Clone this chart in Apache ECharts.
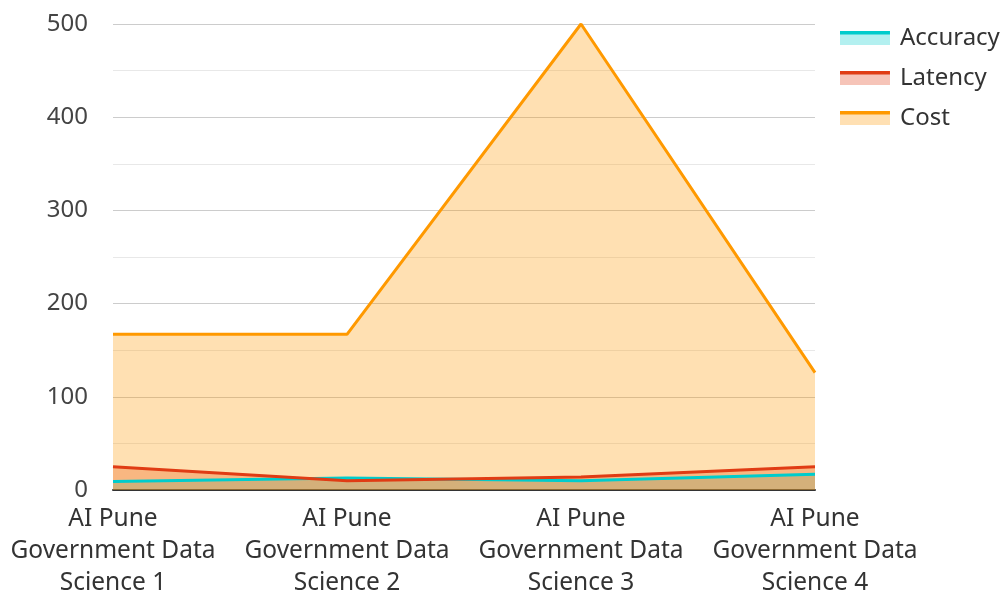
<!DOCTYPE html>
<html>
<head>
<meta charset="utf-8">
<script src="https://cdn.jsdelivr.net/npm/echarts@6/dist/echarts.min.js"></script>
<style>
  html, body { margin: 0; padding: 0; background: #fff; }
  #chart { width: 1005px; height: 594px; }
</style>
</head>
<body>
<div id="chart"></div>
<script>
var categories = [
    'AI Pune\nGovernment Data\nScience 1',
    'AI Pune\nGovernment Data\nScience 2',
    'AI Pune\nGovernment Data\nScience 3',
    'AI Pune\nGovernment Data\nScience 4'
]
var accuracy_data = [9, 13, 10, 17]
var latency_data = [25, 10, 14, 25]
var cost_data = [167, 167, 500, 126]
var y_ticks = [0, 100, 200, 300, 400, 500]

var names = ['Accuracy', 'Latency', 'Cost']
var colors = ['#00cccc', '#e03c14', '#ff9900']
var light_colors = ['#b3f0f0', '#f6c4b8', '#ffe0b3']
var values = [accuracy_data, latency_data, cost_data]

var font = 'Noto Sans'
// line strip at top, invisible dot at bottom keeps the box size
var line_icon = 'path://M0,0H50V3.5H0Z M0,14H0.01V14.01H0Z'

function make_series()
{
    var series = []
    for (var i = 0; i < names.length; i++) {
        series.push({
            name: names[i],
            type: 'line',
            data: values[i],
            symbol: 'none',
            lineStyle: { width: 3, color: colors[i] },
            itemStyle: { color: colors[i] },
            areaStyle: { color: colors[i], opacity: 0.3 }
        })
    }
    return series
}

function legend_items(use_light)
{
    var items = []
    for (var i = 0; i < names.length; i++) {
        items.push({
            name: names[i],
            itemStyle: { color: use_light ? light_colors[i] : colors[i], opacity: 1 }
        })
    }
    return items
}

var chart = echarts.init(document.getElementById('chart'))

var legend_base = {
    orient: 'vertical',
    left: 835,
    top: 21,
    itemWidth: 50,
    itemHeight: 14,
    itemGap: 16,
    selectedMode: false
}

var option = {
    animation: false,
    textStyle: { fontFamily: font },
    color: colors,
    grid: {
        left: 113,
        right: 190,
        top: 24,
        bottom: 104,
        containLabel: false,
        outerBoundsMode: 'none'
    },
    legend: [
        Object.assign({}, legend_base, {
            icon: 'rect',
            textStyle: { fontSize: 24, color: '#333', fontFamily: font, padding: [0, 0, 0, 5] },
            data: legend_items(true)
        }),
        Object.assign({}, legend_base, {
            icon: line_icon,
            textStyle: { fontSize: 24, color: 'rgba(0,0,0,0)', fontFamily: font, padding: [0, 0, 0, 5] },
            data: legend_items(false)
        })
    ],
    xAxis: {
        type: 'category',
        boundaryGap: false,
        data: categories,
        axisLine: { show: true, lineStyle: { color: '#333', width: 2 } },
        axisTick: { show: false },
        axisLabel: {
            fontSize: 24.5,
            lineHeight: 32,
            color: '#333',
            margin: 13,
            interval: 0
        }
    },
    yAxis: {
        type: 'value',
        min: y_ticks[0],
        max: y_ticks[y_ticks.length - 1],
        interval: 100,
        axisLine: { show: false },
        axisTick: { show: false },
        axisLabel: { fontSize: 24, color: '#444', margin: 25 },
        splitLine: { show: true, lineStyle: { color: '#cccccc', width: 1 } },
        minorTick: { show: false, splitNumber: 2 },
        minorSplitLine: { show: true, lineStyle: { color: '#e8e8e8', width: 1 } }
    },
    series: make_series()
}

chart.setOption(option)
</script>
</body>
</html>
